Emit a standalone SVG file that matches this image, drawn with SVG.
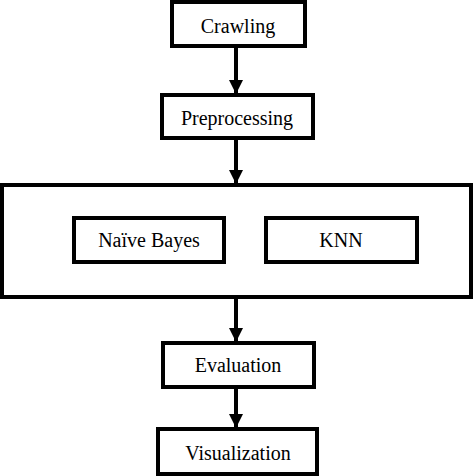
<svg xmlns="http://www.w3.org/2000/svg" width="474" height="476" viewBox="0 0 474 476">
<style>
.box{fill:#fff;stroke:#000;stroke-width:4}
.lbl{font-family:'Liberation Serif','Times New Roman','DejaVu Serif',serif;font-size:20px;fill:#000;text-anchor:middle}
.con{stroke:#000;stroke-width:4;fill:none}
</style>
<defs>
<marker id="ah" markerUnits="userSpaceOnUse" markerWidth="16" markerHeight="14" refX="14" refY="7" orient="auto">
<path d="M0,0 L14,7 L0,14 Z" fill="#000"/>
</marker>
</defs>
<rect width="474" height="476" fill="#fff"/>
<g id="connectors">
<line class="con" x1="236" y1="46" x2="236" y2="94" marker-end="url(#ah)"/>
<line class="con" x1="236" y1="138" x2="236" y2="184" marker-end="url(#ah)"/>
<line class="con" x1="236" y1="297" x2="236" y2="342" marker-end="url(#ah)"/>
<line class="con" x1="236" y1="387" x2="236" y2="428" marker-end="url(#ah)"/>
</g>
<g id="crawling"><rect class="box" x="172" y="2" width="133" height="44"/><text class="lbl" font-family="Liberation Serif, serif" x="238" y="33">Crawling</text></g>
<g id="preprocessing"><rect class="box" x="162" y="95" width="151" height="43"/><text class="lbl" font-family="Liberation Serif, serif" x="237" y="125">Preprocessing</text></g>
<g id="classifiers"><rect class="box" x="2" y="185" width="469" height="112"/></g>
<g id="naive-bayes"><rect class="box" x="74" y="218" width="150" height="44"/><text class="lbl" font-family="Liberation Serif, serif" x="149" y="247">Naïve Bayes</text></g>
<g id="knn"><rect class="box" x="266" y="218" width="151" height="44"/><text class="lbl" font-family="Liberation Serif, serif" x="341" y="247">KNN</text></g>
<g id="evaluation"><rect class="box" x="163" y="343" width="151" height="44"/><text class="lbl" font-family="Liberation Serif, serif" x="238" y="372">Evaluation</text></g>
<g id="visualization"><rect class="box" x="158" y="429" width="159" height="45"/><text class="lbl" font-family="Liberation Serif, serif" x="238" y="460">Visualization</text></g>
</svg>
